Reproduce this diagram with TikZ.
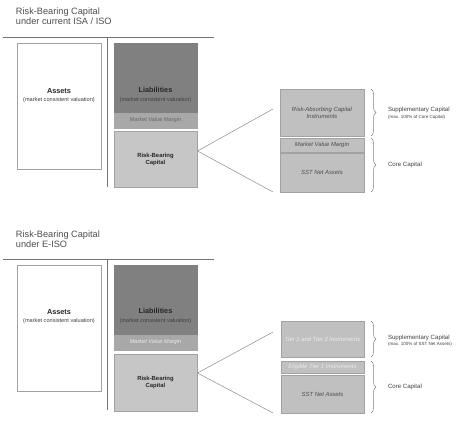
\documentclass[tikz,border=0pt]{standalone}
\usepackage{fontspec}
\setmainfont{Liberation Sans}
\usetikzlibrary{decorations.pathreplacing}
\definecolor{txt}{HTML}{3C3C3C}
\definecolor{liab}{HTML}{808080}
\definecolor{mvm}{HTML}{A8A8A8}
\definecolor{rbc}{HTML}{C6C6C6}
\definecolor{rbox}{HTML}{C0C0C0}
\definecolor{edge}{HTML}{A2A2A2}
\tikzset{
  every node/.style={inner sep=0pt, outer sep=0pt, text=txt},
  whitebox/.style={draw=edge, fill=white, line width=0.7pt},
  liabbox/.style={fill=liab, draw=liab},
  mvmband/.style={fill=mvm, draw=mvm},
  rbcbox/.style={fill=rbc, draw=edge, line width=0.6pt},
  rightbox/.style={fill=rbox, draw=edge, line width=0.6pt},
  rule/.style={draw=black!55, line width=0.7pt},
  conn/.style={draw=black!45, line width=0.5pt},
  bracestyle/.style={draw=black!50, line width=0.5pt, decorate, decoration={brace, amplitude=5pt}},
  title/.style={font=\fontsize{9.2}{11}\selectfont, text=black!70, align=left, anchor=north west},
  bold/.style={font=\fontsize{7.3}{8.5}\selectfont\bfseries, text=black!85},
  boldsm/.style={font=\fontsize{5.9}{7}\selectfont\bfseries, text=black!85, align=center},
  sub/.style={font=\fontsize{5.6}{6.5}\selectfont, text=black!75},
  ital/.style={font=\fontsize{5.9}{6.8}\selectfont\itshape, text=black!70, align=center},
  itwhite/.style={font=\fontsize{5.9}{6.8}\selectfont\itshape, text=white!92!black, align=center},
  lab/.style={font=\fontsize{6.1}{7}\selectfont, text=black!75, anchor=west},
  labsm/.style={font=\fontsize{4.5}{5}\selectfont, text=black!75, anchor=west},
}
\begin{document}
\begin{tikzpicture}[x=1pt, y=-1pt]
\useasboundingbox (0,0) rectangle (474,428);

% ===== Top section =====
\node[title] (t1) at (16,8) {Risk-Bearing Capital\\[-1.5pt]under current ISA / ISO};
\coordinate (h1a) at (3,37); \coordinate (h1b) at (214,37);
\coordinate (v1a) at (107,37); \coordinate (v1b) at (107,187);
\draw[rule] (h1a) -- (h1b);
\draw[rule] (v1a) -- (v1b);

\node[whitebox, minimum width=84pt, minimum height=126pt] (assets1) at (59,106) {};
\node[bold] (assetsl1) at (59,91) {Assets};
\node[sub] (assetss1) at (59,100) {(market consistent valuation)};

\node[liabbox, minimum width=83pt, minimum height=70pt] (liab1) at (155.5,78) {};
\node[bold] (liabl1) at (155.5,90) {Liabilities};
\node[sub] (liabs1) at (155.5,100) {(market consistent valuation)};
\node[mvmband, minimum width=83pt, minimum height=15pt] (mvm1) at (155.5,120.5) {};
\node[sub, text=black!60] (mvml1) at (155.5,120.5) {Market Value Margin};

\node[rbcbox, minimum width=83pt, minimum height=56pt, boldsm] (rbc1) at (155.5,159) {Risk-Bearing\\Capital};

\node[rightbox, minimum width=84pt, minimum height=47pt, ital] (rac1) at (322,112.5) {Risk-Absorbing Capital\\Instruments};
\node[rightbox, minimum width=84pt, minimum height=14pt, ital] (mvmr1) at (322,145) {Market Value Margin};
\node[rightbox, minimum width=84pt, minimum height=39pt, ital] (sst1) at (322,172.5) {SST Net Assets};

\coordinate (j1) at (197.5,151);
\coordinate (c1a) at (273,109);
\coordinate (c1b) at (273,192);
\draw[conn] (j1) -- (c1a);
\draw[conn] (j1) -- (c1b);

\coordinate (b1a) at (371,89); \coordinate (b1b) at (371,136);
\coordinate (b2a) at (371,138); \coordinate (b2b) at (371,192);
\draw[bracestyle] (b1a) -- (b1b);
\draw[bracestyle] (b2a) -- (b2b);
\node[lab] (sup1) at (388,110) {Supplementary Capital};
\node[labsm] (sups1) at (388,117) {(max. 100\% of Core Capital)};
\node[lab] (core1) at (388,165) {Core Capital};

% ===== Bottom section =====
\node[title] (t2) at (16,231) {Risk-Bearing Capital\\[-1.5pt]under E-ISO};
\coordinate (h2a) at (3,259); \coordinate (h2b) at (214,259);
\coordinate (v2a) at (107,259); \coordinate (v2b) at (107,410);
\draw[rule] (h2a) -- (h2b);
\draw[rule] (v2a) -- (v2b);

\node[whitebox, minimum width=84pt, minimum height=126pt] (assets2) at (59,328) {};
\node[bold] (assetsl2) at (59,312) {Assets};
\node[sub] (assetss2) at (59,321) {(market consistent valuation)};

\node[liabbox, minimum width=83pt, minimum height=70pt] (liab2) at (155.5,300) {};
\node[bold] (liabl2) at (155.5,311) {Liabilities};
\node[sub] (liabs2) at (155.5,321) {(market consistent valuation)};
\node[mvmband, minimum width=83pt, minimum height=15pt] (mvm2) at (155.5,342.5) {};
\node[sub, font=\fontsize{5.6}{6.5}\selectfont\itshape, text=white!92!black] (mvml2) at (155.5,342.5) {Market Value Margin};

\node[rbcbox, minimum width=83pt, minimum height=57pt, boldsm] (rbc2) at (155.5,382.5) {Risk-Bearing\\Capital};

\node[rightbox, minimum width=83pt, minimum height=36pt, itwhite] (t12) at (322.5,339) {Tier 1 and Tier 2 Instruments};
\node[rightbox, minimum width=83pt, minimum height=12pt, itwhite] (elig) at (322.5,367) {Eligible Tier 1 Instruments};
\node[rightbox, minimum width=83pt, minimum height=38pt, ital] (sst2) at (322.5,394) {SST Net Assets};

\coordinate (j2) at (197.5,373);
\coordinate (c2a) at (273,332);
\coordinate (c2b) at (273,413);
\draw[conn] (j2) -- (c2a);
\draw[conn] (j2) -- (c2b);

\coordinate (b3a) at (371,321); \coordinate (b3b) at (371,357);
\coordinate (b4a) at (371,361); \coordinate (b4b) at (371,413);
\draw[bracestyle] (b3a) -- (b3b);
\draw[bracestyle] (b4a) -- (b4b);
\node[lab] (sup2) at (388,338) {Supplementary Capital};
\node[labsm] (sups2) at (388,344) {(max. 100\% of SST Net Assets)};
\node[lab] (core2) at (388,387) {Core Capital};
\end{tikzpicture}
\end{document}
